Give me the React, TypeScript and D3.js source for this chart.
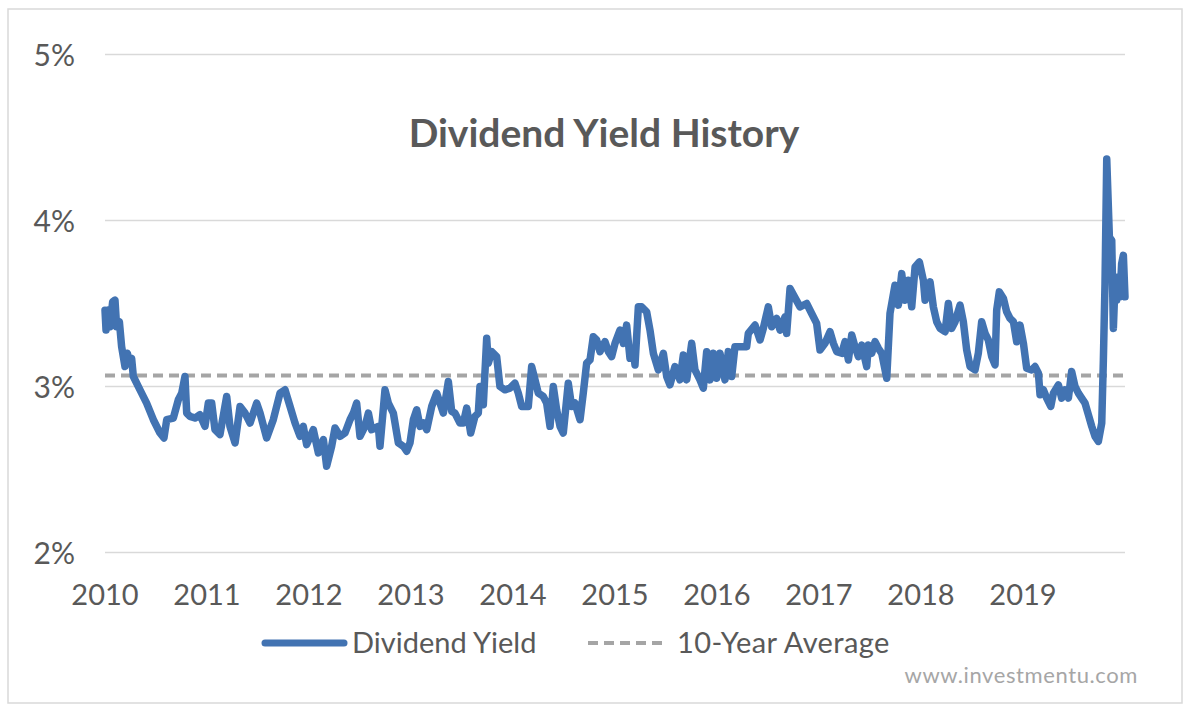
import React from 'react';
import * as d3 from 'd3';

// [decimal year, dividend yield %]
const yieldHistory: [number, number][] = [
  [2010.0, 3.46], [2010.01, 3.34], [2010.033, 3.46], [2010.049, 3.36], [2010.075, 3.51],
  [2010.098, 3.52], [2010.114, 3.36], [2010.141, 3.39], [2010.163, 3.24], [2010.196, 3.12],
  [2010.219, 3.2], [2010.245, 3.14], [2010.261, 3.17], [2010.278, 3.06], [2010.343, 2.98],
  [2010.408, 2.9], [2010.474, 2.8], [2010.539, 2.72], [2010.578, 2.69], [2010.605, 2.8],
  [2010.67, 2.81], [2010.719, 2.92], [2010.752, 2.96], [2010.784, 3.06], [2010.801, 2.84],
  [2010.833, 2.82], [2010.882, 2.81], [2010.931, 2.83], [2010.98, 2.76], [2011.013, 2.9],
  [2011.046, 2.9], [2011.078, 2.74], [2011.127, 2.71], [2011.193, 2.94], [2011.225, 2.76],
  [2011.275, 2.66], [2011.324, 2.88], [2011.373, 2.84], [2011.422, 2.78], [2011.487, 2.9],
  [2011.52, 2.84], [2011.585, 2.69], [2011.65, 2.8], [2011.716, 2.96], [2011.765, 2.98],
  [2011.814, 2.88], [2011.863, 2.78], [2011.912, 2.7], [2011.944, 2.76], [2011.977, 2.65],
  [2012.042, 2.74], [2012.092, 2.6], [2012.141, 2.68], [2012.173, 2.52], [2012.222, 2.64],
  [2012.255, 2.75], [2012.304, 2.7], [2012.353, 2.72], [2012.402, 2.8], [2012.435, 2.84],
  [2012.467, 2.9], [2012.5, 2.7], [2012.549, 2.76], [2012.582, 2.84], [2012.614, 2.74],
  [2012.68, 2.76], [2012.696, 2.64], [2012.745, 2.98], [2012.778, 2.9], [2012.827, 2.84],
  [2012.876, 2.66], [2012.925, 2.64], [2012.958, 2.61], [2012.99, 2.66], [2013.023, 2.8],
  [2013.056, 2.86], [2013.088, 2.76], [2013.121, 2.78], [2013.154, 2.74], [2013.203, 2.88],
  [2013.252, 2.96], [2013.317, 2.84], [2013.366, 3.03], [2013.399, 2.85], [2013.431, 2.84],
  [2013.48, 2.78], [2013.513, 2.78], [2013.546, 2.87], [2013.585, 2.72], [2013.627, 2.82],
  [2013.66, 2.84], [2013.676, 3.0], [2013.709, 2.89], [2013.742, 3.29], [2013.758, 3.14],
  [2013.791, 3.21], [2013.84, 3.18], [2013.872, 3.0], [2013.921, 2.98], [2013.97, 2.99],
  [2014.019, 3.02], [2014.052, 2.96], [2014.085, 2.88], [2014.15, 2.88], [2014.183, 3.12],
  [2014.216, 3.04], [2014.248, 2.96], [2014.297, 2.94], [2014.33, 2.9], [2014.363, 2.76],
  [2014.395, 3.0], [2014.428, 2.86], [2014.461, 2.76], [2014.493, 2.72], [2014.542, 3.02],
  [2014.575, 2.88], [2014.608, 2.9], [2014.657, 2.8], [2014.689, 2.96], [2014.722, 3.14],
  [2014.755, 3.16], [2014.787, 3.3], [2014.82, 3.28], [2014.853, 3.21], [2014.902, 3.27],
  [2014.935, 3.21], [2014.967, 3.18], [2015.0, 3.26], [2015.049, 3.34], [2015.082, 3.26],
  [2015.114, 3.37], [2015.147, 3.17], [2015.18, 3.22], [2015.196, 3.13], [2015.229, 3.48],
  [2015.261, 3.48], [2015.31, 3.45], [2015.343, 3.34], [2015.376, 3.2], [2015.425, 3.1],
  [2015.474, 3.2], [2015.507, 3.06], [2015.539, 3.01], [2015.588, 3.12], [2015.637, 3.04],
  [2015.67, 3.19], [2015.703, 3.04], [2015.752, 3.26], [2015.784, 3.1], [2015.833, 3.04],
  [2015.866, 2.99], [2015.899, 3.21], [2015.931, 3.04], [2015.964, 3.2], [2015.997, 3.05],
  [2016.029, 3.2], [2016.078, 3.04], [2016.111, 3.21], [2016.144, 3.06], [2016.176, 3.24],
  [2016.242, 3.24], [2016.291, 3.24], [2016.307, 3.32], [2016.373, 3.37], [2016.422, 3.28],
  [2016.454, 3.35], [2016.503, 3.48], [2016.536, 3.36], [2016.585, 3.41], [2016.618, 3.34],
  [2016.667, 3.42], [2016.683, 3.32], [2016.716, 3.59], [2016.76, 3.54], [2016.814, 3.48],
  [2016.879, 3.5], [2016.928, 3.44], [2016.977, 3.38], [2017.01, 3.22], [2017.059, 3.26],
  [2017.108, 3.33], [2017.141, 3.26], [2017.174, 3.21], [2017.223, 3.2], [2017.255, 3.27],
  [2017.288, 3.16], [2017.321, 3.31], [2017.353, 3.24], [2017.386, 3.18], [2017.419, 3.25],
  [2017.468, 3.12], [2017.484, 3.25], [2017.517, 3.2], [2017.549, 3.27], [2017.582, 3.23],
  [2017.615, 3.2], [2017.664, 3.05], [2017.696, 3.44], [2017.745, 3.61], [2017.778, 3.49],
  [2017.811, 3.68], [2017.843, 3.52], [2017.876, 3.64], [2017.909, 3.48], [2017.942, 3.72],
  [2017.984, 3.75], [2018.023, 3.64], [2018.04, 3.52], [2018.089, 3.63], [2018.121, 3.48],
  [2018.154, 3.39], [2018.187, 3.35], [2018.236, 3.33], [2018.268, 3.5], [2018.301, 3.35],
  [2018.334, 3.39], [2018.383, 3.49], [2018.415, 3.39], [2018.448, 3.22], [2018.481, 3.12],
  [2018.53, 3.1], [2018.562, 3.2], [2018.595, 3.39], [2018.628, 3.32], [2018.66, 3.28],
  [2018.693, 3.18], [2018.726, 3.13], [2018.742, 3.46], [2018.768, 3.57], [2018.808, 3.53],
  [2018.84, 3.45], [2018.873, 3.41], [2018.906, 3.39], [2018.938, 3.27], [2018.971, 3.37],
  [2019.004, 3.26], [2019.036, 3.11], [2019.085, 3.1], [2019.118, 3.12], [2019.151, 3.08],
  [2019.167, 2.95], [2019.2, 2.98], [2019.232, 2.93], [2019.272, 2.88], [2019.298, 2.96],
  [2019.347, 3.01], [2019.379, 2.93], [2019.412, 2.98], [2019.445, 2.93], [2019.477, 3.09],
  [2019.51, 3.0], [2019.543, 2.96], [2019.575, 2.93], [2019.608, 2.9], [2019.641, 2.83],
  [2019.674, 2.76], [2019.706, 2.7], [2019.739, 2.67], [2019.772, 2.78], [2019.788, 3.16],
  [2019.804, 3.62], [2019.821, 4.37], [2019.847, 3.9], [2019.87, 3.88], [2019.886, 3.35],
  [2019.902, 3.62], [2019.918, 3.52], [2019.935, 3.66], [2019.951, 3.54], [2019.967, 3.74],
  [2019.984, 3.79], [2020.0, 3.54],
];

const tenYearAverage = 3.066;
const yearLabels = ['2010', '2011', '2012', '2013', '2014', '2015', '2016', '2017', '2018', '2019'];
const yTicks = [2, 3, 4, 5];

const FONT = 'Lato, "Open Sans", sans-serif';
const TEXT = '#595959';
const BLUE = '#4273b2';
const GREY = '#a5a5a5';

const App: React.FC = () => {
  const width = 1192;
  const height = 712;

  const x = d3.scaleLinear().domain([2010, 2020]).range([105, 1125]);
  const y = d3.scaleLinear().domain([2, 5]).range([552.5, 54.5]);

  const line = d3.line<[number, number]>()
    .x(d => x(d[0]))
    .y(d => y(d[1]));

  return (
    <svg
      width={width}
      height={height}
      style={{ position: 'absolute', left: 0, top: 0, background: '#fff' }}
      fontFamily={FONT}
    >
      <rect x={8} y={9} width={1174} height={694} fill="#fff" stroke="#d9d9d9" strokeWidth={1.5} />

      {yTicks.map(t => (
        <g key={t}>
          <line x1={x(2010)} x2={x(2020)} y1={y(t)} y2={y(t)} stroke="#d9d9d9" strokeWidth={1.5} />
          <text x={75} y={y(t) + 11} textAnchor="end" fontSize={30} fill={TEXT}>{`${t}%`}</text>
        </g>
      ))}

      {yearLabels.map(lbl => (
        <text key={lbl} x={x(+lbl)} y={605} textAnchor="middle" fontSize={29} fill={TEXT}>{lbl}</text>
      ))}

      <text x={604} y={147} textAnchor="middle" fontSize={39} fontWeight="bold" fill={TEXT}>
        Dividend Yield History
      </text>

      <line
        x1={x(2010)} x2={x(2020)} y1={y(tenYearAverage)} y2={y(tenYearAverage)}
        stroke={GREY} strokeWidth={4} strokeDasharray="10 6"
      />

      <path
        d={line(yieldHistory) ?? ''}
        fill="none"
        stroke={BLUE}
        strokeWidth={7.5}
        strokeLinejoin="round"
        strokeLinecap="round"
      />

      {/* legend */}
      <line x1={265} x2={344} y1={643} y2={643} stroke={BLUE} strokeWidth={7} strokeLinecap="round" />
      <text x={352} y={653} fontSize={29} fill={TEXT}>Dividend Yield</text>
      <line x1={588} x2={664} y1={643} y2={643} stroke={GREY} strokeWidth={4} strokeDasharray="10 6" />
      <text x={677} y={653} fontSize={29} fill={TEXT} letterSpacing={0.4}>10-Year Average</text>

      <text x={1138} y={683} textAnchor="end" fontSize={22} fill="#a6a6a6" letterSpacing={0.6}>
        www.investmentu.com
      </text>
    </svg>
  );
};

export default App;
